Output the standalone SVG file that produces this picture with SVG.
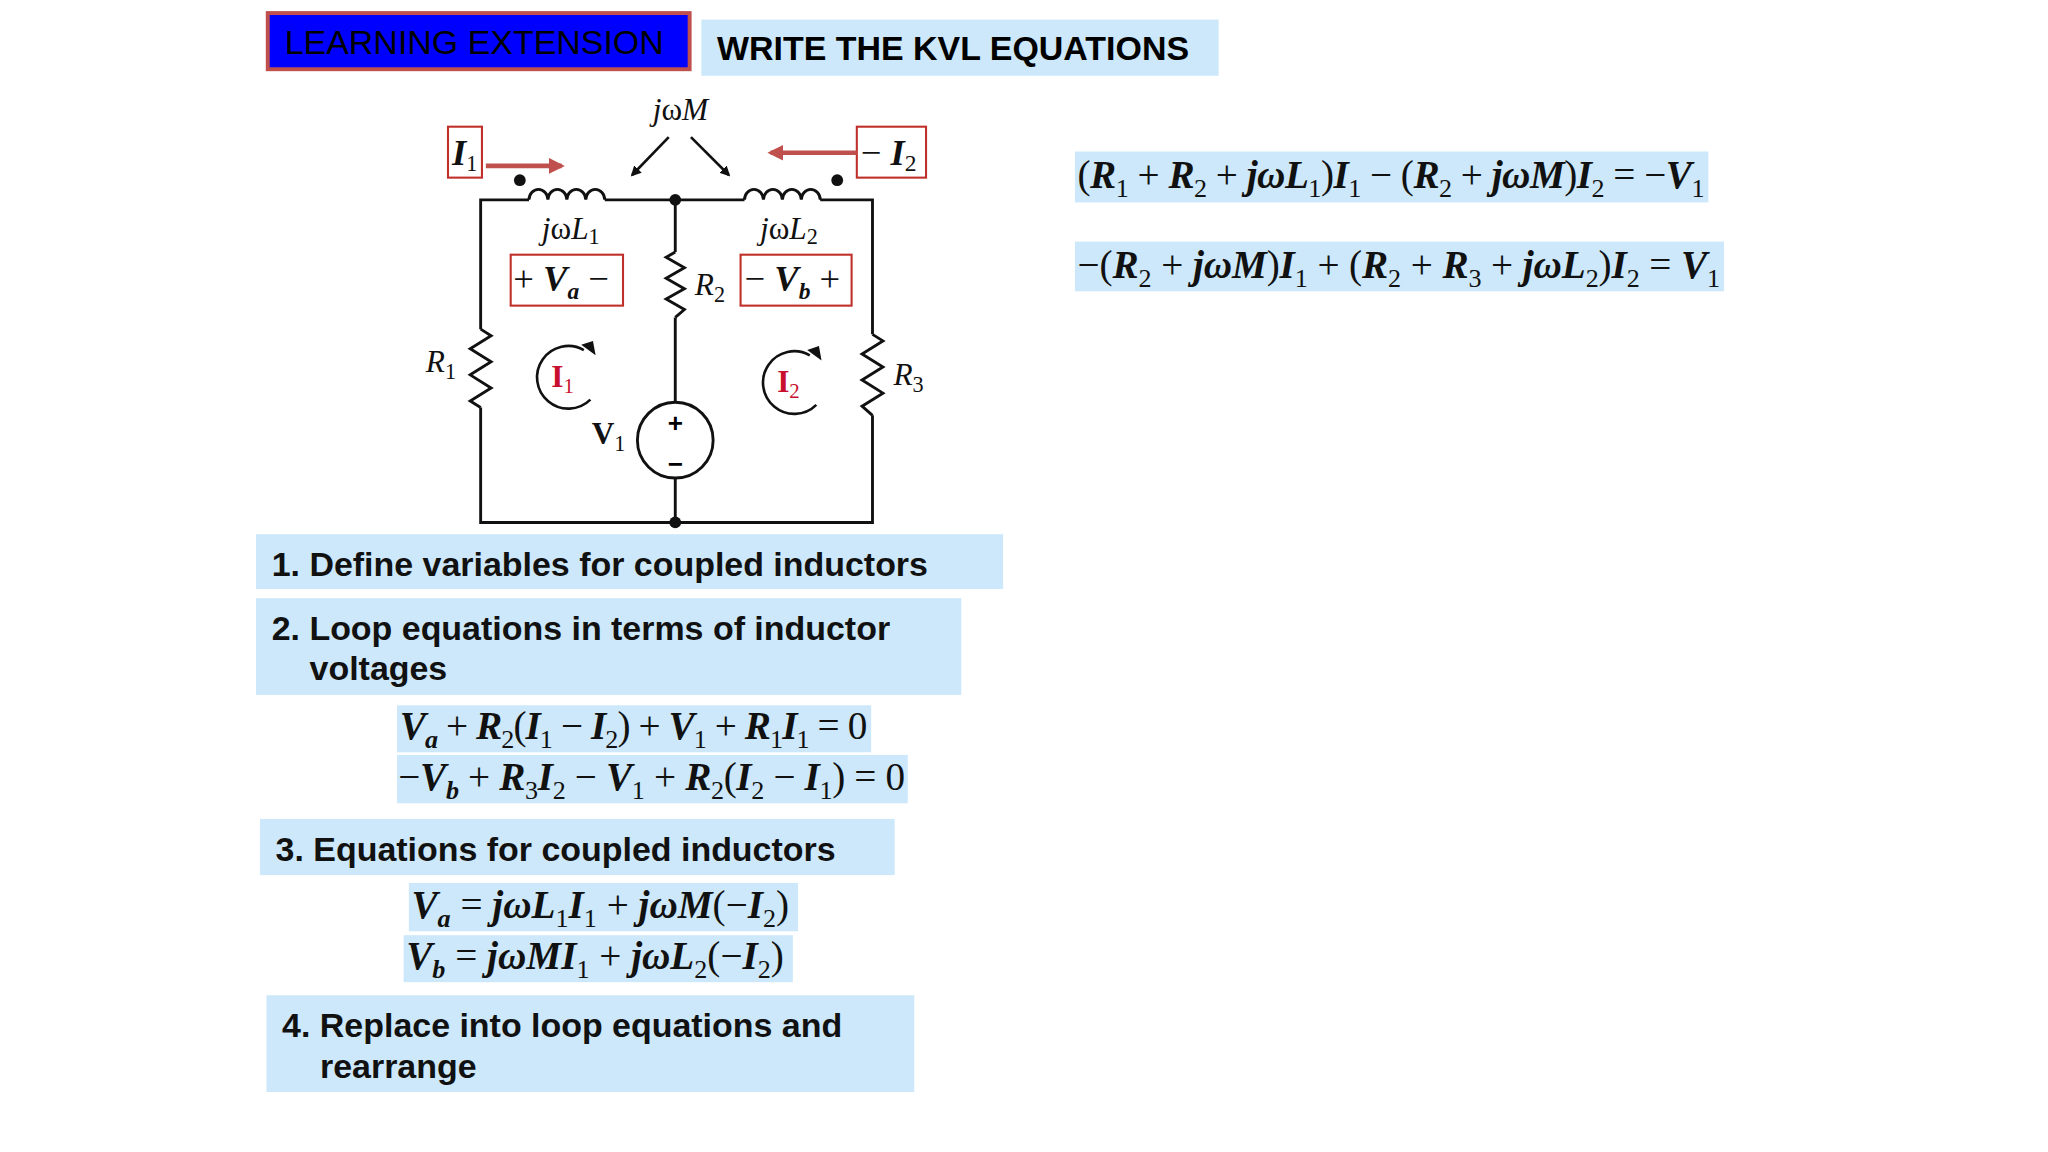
<svg xmlns="http://www.w3.org/2000/svg" width="2048" height="1152" viewBox="0 0 2048 1152">
<style>
.hd{font-family:"Liberation Sans",Arial,sans-serif;font-weight:bold;font-size:26px;fill:#000}
.st{font-family:"Liberation Sans",Arial,sans-serif;font-weight:bold;font-size:26px;fill:#111}
.bx{fill:#cce8fa}
.m{font-family:"Liberation Serif","Times New Roman",serif;font-weight:bold;font-style:italic;font-size:30px;fill:#111}
.n{font-style:normal;font-weight:normal}
.c{font-family:"Liberation Serif","Times New Roman",serif;font-style:italic;font-size:24px;fill:#111}
.w{fill:none;stroke:#111;stroke-width:2.2}
.rb{fill:#fff;stroke:#c0302a;stroke-width:1.6}
.ra{stroke:#c0504d;stroke-width:3.5;fill:none}
</style>
<defs>
<marker id="ah" viewBox="0 0 10 10" refX="8" refY="5" markerWidth="4" markerHeight="4" orient="auto"><path d="M0,0L10,5L0,10z" fill="#111"/></marker>
<marker id="rh" viewBox="0 0 10 10" refX="8" refY="5" markerWidth="3.5" markerHeight="3.5" orient="auto"><path d="M0,0L10,5L0,10z" fill="#c0504d"/></marker>
</defs>
<rect width="2048" height="1152" fill="#fff"/>
<g transform="scale(1.30612)">
<g id="title">
<rect x="205" y="10" width="323" height="43" fill="#0000ff" stroke="#c0504d" stroke-width="3"/>
<text x="218" y="41" class="hd" style="font-weight:normal;font-size:26px">LEARNING EXTENSION</text>
</g>
<g id="subtitle">
<rect x="537" y="15" width="396" height="43" class="bx"/>
<text x="549" y="46" class="hd">WRITE THE KVL EQUATIONS</text>
</g>
<g id="circuit">
<path class="w" d="M405,153H368V252 M368,312V400H668V318 M668,256V153H628 M570,153H463 M517,153V193 M517,243V308 M517,366V400"/>
<path class="w" d="M405,153 a7.25,8 0 0 1 14.5,0 a7.25,8 0 0 1 14.5,0 a7.25,8 0 0 1 14.5,0 a7.25,8 0 0 1 14.5,0"/>
<path class="w" d="M570,153 a7.25,8 0 0 1 14.5,0 a7.25,8 0 0 1 14.5,0 a7.25,8 0 0 1 14.5,0 a7.25,8 0 0 1 14.5,0"/>
<path class="w" d="M368,252 l8,5 l-16,10 l16,10 l-16,10 l16,10 l-16,10 l8,5"/>
<path class="w" d="M517,193 l-7,4 l14,8 l-14,8 l14,8 l-14,8 l14,8 l-7,6"/>
<path class="w" d="M668,256 l8,5 l-16,10 l16,10 l-16,10 l16,10 l-16,10 l8,7"/>
<circle cx="517" cy="337" r="29" class="w"/>
<text x="517" y="331" font-family="Liberation Sans,sans-serif" font-weight="bold" font-size="20" text-anchor="middle">+</text>
<text x="517" y="362" font-family="Liberation Sans,sans-serif" font-weight="bold" font-size="20" text-anchor="middle">−</text>
<circle cx="398" cy="138" r="4.5" fill="#111"/><circle cx="641" cy="138" r="4.5" fill="#111"/>
<circle cx="517" cy="153" r="4.5" fill="#111"/><circle cx="517" cy="400" r="4.5" fill="#111"/>
<text x="521" y="92" class="c" text-anchor="middle">j<tspan style="font-style:normal">ω</tspan>M</text>
<line x1="512" y1="105" x2="484" y2="134" stroke="#111" stroke-width="2" marker-end="url(#ah)"/>
<line x1="529" y1="105" x2="558" y2="134" stroke="#111" stroke-width="2" marker-end="url(#ah)"/>
<text x="437" y="183" class="c" text-anchor="middle">j<tspan style="font-style:normal">ω</tspan>L<tspan style="font-style:normal" font-size="17" dy="4">1</tspan></text>
<text x="604" y="183" class="c" text-anchor="middle">j<tspan style="font-style:normal">ω</tspan>L<tspan style="font-style:normal" font-size="17" dy="4">2</tspan></text>
<text x="326" y="285" class="c">R<tspan style="font-style:normal" font-size="17" dy="5">1</tspan></text>
<text x="532" y="226" class="c">R<tspan style="font-style:normal" font-size="17" dy="5">2</tspan></text>
<text x="684" y="295" class="c">R<tspan style="font-style:normal" font-size="17" dy="5">3</tspan></text>
<text x="453" y="340" font-family="Liberation Serif,serif" font-weight="bold" font-size="24" fill="#111">V<tspan font-weight="normal" font-size="17" dy="5">1</tspan></text>
<path d="M447,268 A24,24 0 1 0 452,306" fill="none" stroke="#111" stroke-width="2"/>
<path d="M445,264 l11,8 l-2,-11 z" fill="#111"/>
<path d="M620,272 A24,24 0 1 0 625,310" fill="none" stroke="#111" stroke-width="2"/>
<path d="M618,268 l11,8 l-2,-11 z" fill="#111"/>
<text x="422" y="296" font-family="Liberation Serif,serif" font-weight="bold" font-size="24" fill="#c8102e">I<tspan font-weight="normal" font-size="16" dy="5">1</tspan></text>
<text x="595" y="300" font-family="Liberation Serif,serif" font-weight="bold" font-size="24" fill="#c8102e">I<tspan font-weight="normal" font-size="16" dy="5">2</tspan></text>
<rect x="343" y="97" width="26" height="39" class="rb"/>
<text x="346" y="126" class="m" style="font-size:28px">I<tspan class="n" font-size="17" dy="5">1</tspan></text>
<rect x="656" y="97" width="53" height="39" class="rb"/>
<text x="659" y="126" class="m" style="font-size:28px"><tspan class="n">−</tspan> I<tspan class="n" font-size="18" dy="5">2</tspan></text>
<line x1="372" y1="127" x2="430" y2="127" class="ra" marker-end="url(#rh)"/>
<line x1="656" y1="117" x2="590" y2="117" class="ra" marker-end="url(#rh)"/>
<rect x="391" y="195" width="86" height="39" class="rb"/>
<text x="393" y="223" class="m" style="font-size:28px"><tspan class="n">+</tspan> V<tspan font-size="18" dy="6">a</tspan><tspan class="n" dy="-6"> −</tspan></text>
<rect x="567" y="195" width="85" height="39" class="rb"/>
<text x="570" y="223" class="m" style="font-size:28px"><tspan class="n">−</tspan> V<tspan font-size="18" dy="6">b</tspan><tspan class="n" dy="-6"> +</tspan></text>
</g>
<g id="step1"><rect x="196" y="409" width="572" height="42" class="bx"/><text x="208" y="441" class="st">1. Define variables for coupled inductors</text></g>
<g id="step2"><rect x="196" y="458" width="540" height="74" class="bx"/><text x="208" y="490" class="st">2. Loop equations in terms of inductor</text><text x="237" y="521" class="st">voltages</text></g>
<g id="eq1"><rect x="304" y="540" width="363" height="36" class="bx"/>
<text x="306" y="566" class="m" textLength="358" lengthAdjust="spacing">V<tspan font-size="20" dy="7">a</tspan><tspan class="n" dy="-7"> + </tspan>R<tspan class="n" font-size="20" dy="7">2</tspan><tspan class="n" dy="-7">(</tspan>I<tspan class="n" font-size="20" dy="7">1</tspan><tspan class="n" dy="-7"> − </tspan>I<tspan class="n" font-size="20" dy="7">2</tspan><tspan class="n" dy="-7">) + </tspan>V<tspan class="n" font-size="20" dy="7">1</tspan><tspan class="n" dy="-7"> + </tspan>R<tspan class="n" font-size="20" dy="7">1</tspan><tspan dy="-7">I</tspan><tspan class="n" font-size="20" dy="7">1</tspan><tspan class="n" dy="-7"> = 0</tspan></text></g>
<g id="eq2"><rect x="304" y="578" width="391" height="37" class="bx"/>
<text x="305" y="605" class="m" textLength="388" lengthAdjust="spacing"><tspan class="n">−</tspan>V<tspan font-size="20" dy="7">b</tspan><tspan class="n" dy="-7"> + </tspan>R<tspan class="n" font-size="20" dy="7">3</tspan><tspan dy="-7">I</tspan><tspan class="n" font-size="20" dy="7">2</tspan><tspan class="n" dy="-7"> − </tspan>V<tspan class="n" font-size="20" dy="7">1</tspan><tspan class="n" dy="-7"> + </tspan>R<tspan class="n" font-size="20" dy="7">2</tspan><tspan class="n" dy="-7">(</tspan>I<tspan class="n" font-size="20" dy="7">2</tspan><tspan class="n" dy="-7"> − </tspan>I<tspan class="n" font-size="20" dy="7">1</tspan><tspan class="n" dy="-7">) = 0</tspan></text></g>
<g id="step3"><rect x="199" y="627" width="486" height="43" class="bx"/><text x="211" y="659" class="st">3. Equations for coupled inductors</text></g>
<g id="eq3"><rect x="313" y="676" width="298" height="37" class="bx"/>
<text x="315" y="703" class="m">V<tspan font-size="20" dy="7">a</tspan><tspan class="n" dy="-7"> = </tspan>j<tspan>ω</tspan>L<tspan class="n" font-size="20" dy="7">1</tspan><tspan dy="-7">I</tspan><tspan class="n" font-size="20" dy="7">1</tspan><tspan class="n" dy="-7"> + </tspan>j<tspan>ω</tspan>M<tspan class="n">(−</tspan>I<tspan class="n" font-size="20" dy="7">2</tspan><tspan class="n" dy="-7">)</tspan></text></g>
<g id="eq4"><rect x="309" y="716" width="298" height="36" class="bx"/>
<text x="311" y="742" class="m">V<tspan font-size="20" dy="7">b</tspan><tspan class="n" dy="-7"> = </tspan>j<tspan>ω</tspan>MI<tspan class="n" font-size="20" dy="7">1</tspan><tspan class="n" dy="-7"> + </tspan>j<tspan>ω</tspan>L<tspan class="n" font-size="20" dy="7">2</tspan><tspan class="n" dy="-7">(−</tspan>I<tspan class="n" font-size="20" dy="7">2</tspan><tspan class="n" dy="-7">)</tspan></text></g>
<g id="step4"><rect x="204" y="762" width="496" height="74" class="bx"/><text x="216" y="794" class="st">4. Replace into loop equations and</text><text x="245" y="825" class="st">rearrange</text></g>
<g id="kvl1"><rect x="823" y="116" width="485" height="39" class="bx"/>
<text x="825" y="144" class="m" textLength="480" lengthAdjust="spacing"><tspan class="n">(</tspan>R<tspan class="n" font-size="20" dy="7">1</tspan><tspan class="n" dy="-7"> + </tspan>R<tspan class="n" font-size="20" dy="7">2</tspan><tspan class="n" dy="-7"> + </tspan>j<tspan>ω</tspan>L<tspan class="n" font-size="20" dy="7">1</tspan><tspan class="n" dy="-7">)</tspan>I<tspan class="n" font-size="20" dy="7">1</tspan><tspan class="n" dy="-7"> − (</tspan>R<tspan class="n" font-size="20" dy="7">2</tspan><tspan class="n" dy="-7"> + </tspan>j<tspan>ω</tspan>M<tspan class="n">)</tspan>I<tspan class="n" font-size="20" dy="7">2</tspan><tspan class="n" dy="-7"> = −</tspan>V<tspan class="n" font-size="20" dy="7">1</tspan></text></g>
<g id="kvl2"><rect x="823" y="185" width="497" height="38" class="bx"/>
<text x="825" y="213" class="m" textLength="492" lengthAdjust="spacing"><tspan class="n">−(</tspan>R<tspan class="n" font-size="20" dy="7">2</tspan><tspan class="n" dy="-7"> + </tspan>j<tspan>ω</tspan>M<tspan class="n">)</tspan>I<tspan class="n" font-size="20" dy="7">1</tspan><tspan class="n" dy="-7"> + (</tspan>R<tspan class="n" font-size="20" dy="7">2</tspan><tspan class="n" dy="-7"> + </tspan>R<tspan class="n" font-size="20" dy="7">3</tspan><tspan class="n" dy="-7"> + </tspan>j<tspan>ω</tspan>L<tspan class="n" font-size="20" dy="7">2</tspan><tspan class="n" dy="-7">)</tspan>I<tspan class="n" font-size="20" dy="7">2</tspan><tspan class="n" dy="-7"> = </tspan>V<tspan class="n" font-size="20" dy="7">1</tspan></text></g>
</g>
</svg>
